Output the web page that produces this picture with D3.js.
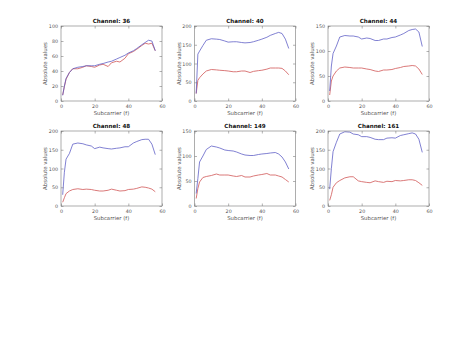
<!DOCTYPE html>
<html>
<head>
<meta charset="utf-8">
<script src="https://cdn.jsdelivr.net/npm/d3@7/dist/d3.min.js"></script>
<style>
  html, body { margin: 0; padding: 0; background: #fff; }
  svg { display: block; font-family: "DejaVu Sans", sans-serif; }
</style>
</head>
<body>
<svg id="chart" width="474" height="349"></svg>
<script>
// Subcarrier indices at which the amplitudes were sampled
const subcarriers = [1, 2, 3, 5, 7, 10, 13, 15, 18, 20, 23, 25, 28, 30, 33, 35, 38, 40, 43, 45, 48, 50, 52, 54, 56];

const channels = [36, 40, 44, 48, 149, 161];
const yMaxima = [100, 200, 150, 200, 150, 200];
const yTickSteps = [20, 50, 50, 50, 50, 50];
const xTicks = [0, 20, 40, 60];

// Absolute CSI values per channel: first trace (blue) and second trace (red)
const blue36 = [7.5, 20, 30, 38, 43, 45, 46, 47, 47, 47, 49, 50, 52, 53, 56, 58, 61, 64, 67, 70, 75, 78, 81, 80, 67];
const red36  = [8, 19, 29, 38, 43, 43, 45, 47, 46, 45, 48, 49, 46, 51, 53, 52, 57, 63, 66, 69, 74, 77, 76, 77, 67];
const blue40 = [20, 125, 133, 148, 162, 166, 165, 164, 160, 157, 158, 158, 156, 155, 156, 158, 162, 165, 170, 175, 180, 183, 180, 165, 140];
const red40  = [20, 55, 62, 72, 80, 84, 83, 82, 81, 80, 78, 78, 80, 80, 76, 79, 81, 82, 85, 88, 88, 88, 87, 80, 70];
const blue44 = [20, 70, 95, 110, 128, 131, 130, 130, 128, 124, 126, 125, 121, 121, 124, 124, 127, 128, 132, 135, 141, 143, 144, 138, 109];
const red44  = [12, 40, 50, 60, 66, 68, 67, 66, 66, 66, 64, 63, 60, 59, 62, 62, 63, 65, 67, 69, 70, 71, 70, 64, 53];
const blue48 = [30, 90, 125, 140, 165, 168, 166, 163, 160, 153, 157, 155, 153, 152, 154, 155, 158, 158, 168, 172, 177, 178, 178, 165, 137];
const red48  = [10, 22, 33, 40, 44, 46, 44, 45, 44, 42, 40, 40, 42, 45, 42, 40, 41, 44, 45, 47, 51, 50, 48, 45, 38];
const blue149 = [25, 55, 88, 100, 113, 120, 118, 116, 112, 111, 110, 108, 104, 102, 101, 101, 103, 104, 105, 106, 107, 104, 98, 88, 74];
const red149  = [15, 35, 48, 57, 59, 61, 64, 62, 62, 62, 60, 59, 61, 58, 58, 60, 62, 63, 65, 62, 62, 60, 58, 53, 48];
const blue161 = [45, 100, 145, 170, 192, 198, 197, 192, 190, 185, 185, 183, 178, 177, 177, 181, 182, 181, 188, 190, 193, 195, 192, 178, 143];
const red161  = [15, 30, 50, 62, 68, 75, 78, 78, 67, 65, 63, 62, 67, 65, 63, 66, 65, 68, 67, 68, 70, 70, 68, 62, 55];

const blueSeries = [blue36, blue40, blue44, blue48, blue149, blue161];
const redSeries  = [red36, red40, red44, red48, red149, red161];

const svg = d3.select("#chart");

// Panel grid geometry
const panelW = 101, panelH = 75;
const colLeft = [61, 194.5, 328];
const rowTop = [26, 131];

const textColor = "#555";

channels.forEach((ch, i) => {
  const col = i % 3, row = Math.floor(i / 3);
  const g = svg.append("g")
    .attr("transform", `translate(${colLeft[col]},${rowTop[row]})`);

  const x = d3.scaleLinear().domain([0, 60]).range([0, panelW]);
  const y = d3.scaleLinear().domain([0, yMaxima[i]]).range([panelH, 0]);
  const yTicks = d3.range(0, yMaxima[i] + 0.001, yTickSteps[i]);

  // clip lines to the plotting area
  const clipId = `clip${i}`;
  g.append("clipPath").attr("id", clipId)
    .append("rect").attr("width", panelW).attr("height", panelH);

  const line = d3.line()
    .x((d, k) => x(subcarriers[k]))
    .y(d => y(d));

  const lines = g.append("g").attr("clip-path", `url(#${clipId})`);
  lines.append("path").datum(redSeries[i])
    .attr("d", line).attr("fill", "none")
    .attr("stroke", "#d66a6a").attr("stroke-width", 0.9);
  lines.append("path").datum(blueSeries[i])
    .attr("d", line).attr("fill", "none")
    .attr("stroke", "#5a5ac4").attr("stroke-opacity", 0.85).attr("stroke-width", 0.9);

  // axes with inward ticks on all four sides
  const fontSize = 4.8;
  const styleAxis = sel => {
    sel.select(".domain").remove();
    sel.selectAll(".tick line").attr("stroke", "#666").attr("stroke-width", 0.5);
    sel.selectAll(".tick text").attr("font-size", fontSize).attr("fill", textColor)
      .attr("font-family", "DejaVu Sans, sans-serif");
  };

  g.append("g").attr("transform", `translate(0,${panelH})`)
    .call(d3.axisBottom(x).tickValues(xTicks).tickSizeInner(-2.5).tickSizeOuter(0).tickPadding(3.5))
    .call(styleAxis);
  g.append("g")
    .call(d3.axisTop(x).tickValues(xTicks).tickSizeInner(-2.5).tickSizeOuter(0).tickFormat(""))
    .call(styleAxis);
  g.append("g")
    .call(d3.axisLeft(y).tickValues(yTicks).tickSizeInner(-2.5).tickSizeOuter(0).tickPadding(3))
    .call(styleAxis);
  g.append("g").attr("transform", `translate(${panelW},0)`)
    .call(d3.axisRight(y).tickValues(yTicks).tickSizeInner(-2.5).tickSizeOuter(0).tickFormat(""))
    .call(styleAxis);

  g.append("rect")
    .attr("width", panelW).attr("height", panelH)
    .attr("fill", "none").attr("stroke", "#777").attr("stroke-width", 0.6);

  g.append("text")
    .attr("x", panelW / 2).attr("y", -3.5)
    .attr("text-anchor", "middle")
    .attr("font-size", 5.6).attr("font-weight", "bold").attr("fill", "#111")
    .text(`Channel: ${ch}`);

  g.append("text")
    .attr("x", panelW / 2).attr("y", panelH + 14)
    .attr("text-anchor", "middle")
    .attr("font-size", 5.4).attr("fill", textColor)
    .text("Subcarrier (f)");

  g.append("text")
    .attr("transform", `translate(-14,${panelH / 2}) rotate(-90)`)
    .attr("text-anchor", "middle")
    .attr("font-size", 5.4).attr("fill", textColor)
    .text("Absolute values");
});
</script>
</body>
</html>
